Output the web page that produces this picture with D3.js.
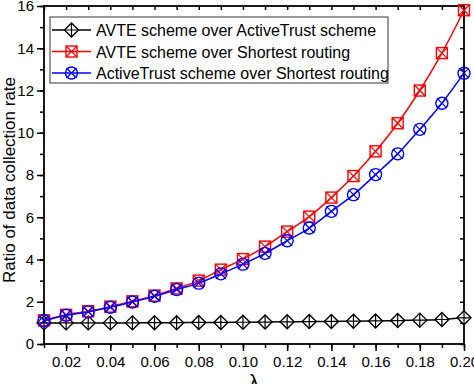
<!DOCTYPE html>
<html>
<head>
<meta charset="utf-8">
<script src="https://cdn.jsdelivr.net/npm/d3@7/dist/d3.min.js"></script>
<style>
    body { margin: 0; background: #fff; }
    text { font-family: "Liberation Sans", Arial, sans-serif; fill: #000; }
</style>
</head>
<body>
<script>
// x values (lambda)
var lambda = [0.01, 0.02, 0.03, 0.04, 0.05, 0.06, 0.07, 0.08, 0.09, 0.10,
              0.11, 0.12, 0.13, 0.14, 0.15, 0.16, 0.17, 0.18, 0.19, 0.20];

// AVTE over ActiveTrust
var avteOverAT = [1.0, 1.0, 1.0, 1.0, 1.0, 1.01, 1.01, 1.02, 1.02, 1.03,
                  1.04, 1.05, 1.06, 1.07, 1.08, 1.09, 1.11, 1.13, 1.16, 1.24];
// AVTE over Shortest
var avteOverSR = [1.12, 1.38, 1.55, 1.77, 2.02, 2.29, 2.63, 3.0, 3.52, 4.02,
                  4.61, 5.32, 6.03, 6.93, 7.95, 9.12, 10.45, 12.0, 13.77, 15.8];
// ActiveTrust over Shortest
var atOverSR = [1.1, 1.36, 1.52, 1.74, 1.99, 2.26, 2.58, 2.88, 3.32, 3.78,
                4.29, 4.89, 5.49, 6.28, 7.07, 8.02, 9.0, 10.16, 11.4, 12.82];

var seriesNames = ["AVTE scheme over ActiveTrust scheme",
                   "AVTE scheme over Shortest routing",
                   "ActiveTrust scheme over Shortest routing"];
var seriesColors = ["#000000", "#ff0000", "#0000ff"];
var seriesMarkers = ["diamond", "square", "circle"];

var xTicks = [0.02, 0.04, 0.06, 0.08, 0.10, 0.12, 0.14, 0.16, 0.18, 0.20];
var yTicks = [0, 2, 4, 6, 8, 10, 12, 14, 16];

var W = 474, H = 384;
var svg = d3.select("body").append("svg").attr("width", W).attr("height", H);

var plotL = 44, plotR = 464, plotT = 6, plotB = 344;

var x = d3.scaleLinear().domain([0.01, 0.20]).range([plotL, plotR]);
var y = d3.scaleLinear().domain([0, 16]).range([plotB, plotT]);

var minorX = d3.range(1, 21).map(function (d) { return d / 100; });
var minorY = d3.range(0, 17);

function plainTicks(g) {
    g.select(".domain").remove();
    g.selectAll("line").attr("stroke-width", 1.5);
}
function labelTicks(g) {
    plainTicks(g);
    g.selectAll("text").attr("font-size", 15).attr("font-family", "Liberation Sans, Arial");
}

// bottom axis
svg.append("g")
    .attr("transform", "translate(0," + plotB + ")")
    .call(d3.axisBottom(x).tickValues(minorX).tickSize(4).tickFormat(""))
    .call(plainTicks);
svg.append("g")
    .attr("transform", "translate(0," + plotB + ")")
    .call(d3.axisBottom(x).tickValues(xTicks).tickSize(7).tickPadding(5).tickFormat(d3.format(".2f")))
    .call(labelTicks);

// left axis
svg.append("g")
    .attr("transform", "translate(" + plotL + ",0)")
    .call(d3.axisLeft(y).tickValues(minorY).tickSize(4).tickFormat(""))
    .call(plainTicks);
svg.append("g")
    .attr("transform", "translate(" + plotL + ",0)")
    .call(d3.axisLeft(y).tickValues(yTicks).tickSize(7).tickPadding(3).tickFormat(d3.format("d")))
    .call(labelTicks);

// top and right axes, ticks inward
svg.append("g")
    .attr("transform", "translate(0," + plotT + ")")
    .call(d3.axisBottom(x).tickValues(minorX).tickSize(4).tickFormat(""))
    .call(plainTicks);
svg.append("g")
    .attr("transform", "translate(" + plotR + ",0)")
    .call(d3.axisLeft(y).tickValues(minorY).tickSize(4).tickFormat(""))
    .call(plainTicks);

// frame
svg.append("rect")
    .attr("x", plotL).attr("y", plotT)
    .attr("width", plotR - plotL).attr("height", plotB - plotT)
    .attr("fill", "none").attr("stroke", "#000").attr("stroke-width", 1.8);

// axis titles
svg.append("text")
    .attr("transform", "translate(15,180) rotate(-90)")
    .attr("text-anchor", "middle")
    .attr("font-size", 17)
    .text("Ratio of data collection rate");
svg.append("text")
    .attr("x", (plotL + plotR) / 2)
    .attr("y", 389)
    .attr("text-anchor", "middle")
    .attr("font-size", 20)
    .text("λ");

function drawMarker(g, type, color) {
    if (type === "diamond") {
        g.append("path").attr("d", "M0,-7L7,0L0,7L-7,0Z")
            .attr("fill", "#fff").attr("stroke", color).attr("stroke-width", 1.4);
        g.append("path").attr("d", "M0,-7V7M-7,0H7")
            .attr("stroke", color).attr("stroke-width", 1.2);
    } else if (type === "square") {
        g.append("rect").attr("x", -5.5).attr("y", -5.5).attr("width", 11).attr("height", 11)
            .attr("fill", "none").attr("stroke", color).attr("stroke-width", 1.4);
        g.append("path").attr("d", "M-5.5,-5.5L5.5,5.5M5.5,-5.5L-5.5,5.5")
            .attr("stroke", color).attr("stroke-width", 1.2);
    } else {
        g.append("circle").attr("r", 6)
            .attr("fill", "none").attr("stroke", color).attr("stroke-width", 1.4);
        g.append("path").attr("d", "M-5,-5L5,5M5,-5L-5,5")
            .attr("stroke", color).attr("stroke-width", 1.2);
    }
}

var allSeries = [avteOverAT, avteOverSR, atOverSR];
var line = d3.line()
    .x(function (d, i) { return x(lambda[i]); })
    .y(function (d) { return y(d); })
    .curve(d3.curveMonotoneX);

allSeries.forEach(function (vals, s) {
    svg.append("path")
        .datum(vals)
        .attr("d", line)
        .attr("fill", "none")
        .attr("stroke", seriesColors[s])
        .attr("stroke-width", 1.5);
    vals.forEach(function (v, i) {
        var g = svg.append("g").attr("transform", "translate(" + x(lambda[i]) + "," + y(v) + ")");
        drawMarker(g, seriesMarkers[s], seriesColors[s]);
    });
});

// legend
var legend = svg.append("g");
legend.append("rect")
    .attr("x", 50).attr("y", 17).attr("width", 338).attr("height", 66)
    .attr("fill", "#fff").attr("stroke", "#555").attr("stroke-width", 1.2);
seriesNames.forEach(function (name, i) {
    var ly = 30 + i * 21.5;
    legend.append("line")
        .attr("x1", 52).attr("x2", 91).attr("y1", ly).attr("y2", ly)
        .attr("stroke", seriesColors[i]).attr("stroke-width", 1.5);
    var g = legend.append("g").attr("transform", "translate(71.5," + ly + ")");
    drawMarker(g, seriesMarkers[i], seriesColors[i]);
    legend.append("text")
        .attr("x", 96).attr("y", ly + 6)
        .attr("font-size", 16)
        .text(name);
});
</script>
</body>
</html>
